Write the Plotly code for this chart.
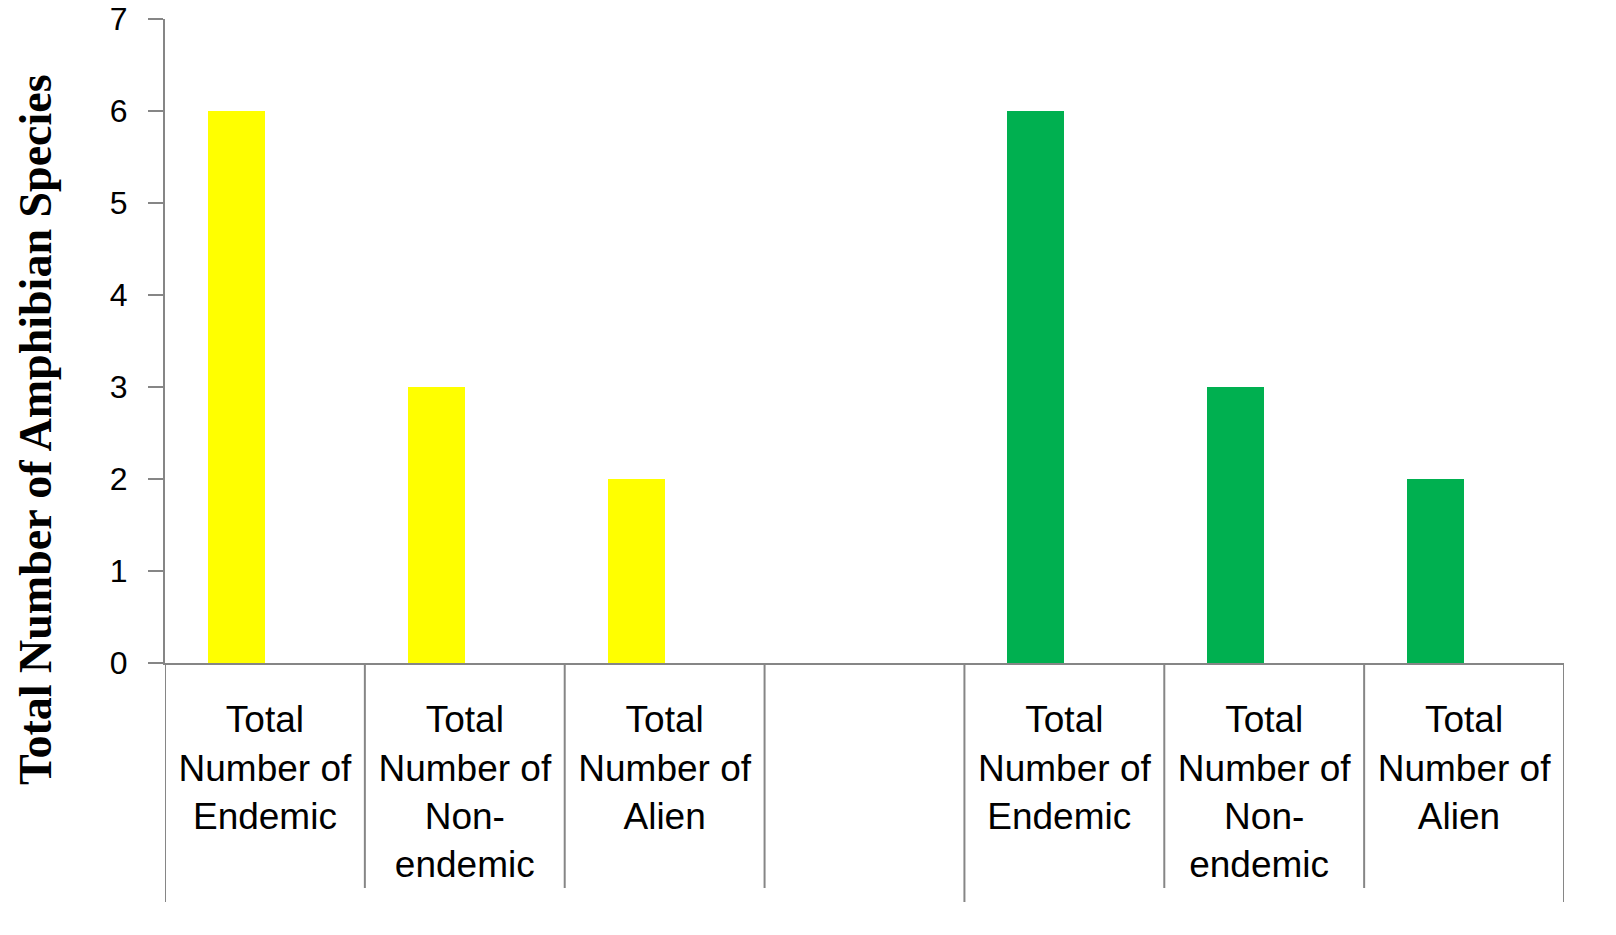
import plotly.graph_objects as go

categories = ["Total<br>Number of<br>Endemic", "Total<br>Number of<br>Non-<br>endemic",
              "Total<br>Number of<br>Alien", " ",
              "Total<br>Number of<br>Endemic ", "Total<br>Number of<br>Non-<br>endemic ",
              "Total<br>Number of<br>Alien "]
values = [6, 3, 2, None, 6, 3, 2]
bar_colors = ["#FFFF00", "#FFFF00", "#FFFF00", "#FFFF00", "#00B050", "#00B050", "#00B050"]
y_ticks = [0, 1, 2, 3, 4, 5, 6, 7]
y_title = "Total Number of Amphibian Species"

AXIS = "#868686"
BAR_W = 0.285

fig = go.Figure()
fig.add_trace(go.Bar(
    x=list(range(len(categories))), y=values,
    marker=dict(color=bar_colors, line=dict(width=0)),
    width=BAR_W, offset=-BAR_W,
    hoverinfo="skip",
))

plot_top, plot_bottom = 19, 663
plot_h = plot_bottom - plot_top

# category divider ticks below the axis
shapes = []
for i in range(len(categories) + 1):
    xb = i - 0.5
    outer = i in (0, 4, len(categories))
    length = 239 if outer else 225
    shapes.append(dict(type="line", xref="x", yref="paper",
                       x0=xb, x1=xb, y0=0, y1=-length / plot_h,
                       line=dict(color=AXIS, width=2)))

fig.update_layout(
    width=1616, height=935,
    margin=dict(l=165, r=52, t=plot_top, b=935 - plot_bottom, pad=0),
    paper_bgcolor="white", plot_bgcolor="white",
    showlegend=False,
    bargap=0,
    shapes=shapes,
    xaxis=dict(
        tickmode="array", tickvals=list(range(len(categories))), ticktext=categories,
        range=[-0.5, len(categories) - 0.5],
        showgrid=False, zeroline=False, automargin=False,
        showline=True, linecolor=AXIS, linewidth=2,
        ticks="", ticklabelstandoff=23,
        tickfont=dict(family="Liberation Sans, Arial", size=37, color="black"),
        tickangle=0,
    ),
    yaxis=dict(
        range=[0, 7], tickmode="array", tickvals=y_ticks,
        showgrid=False, zeroline=False, automargin=False,
        showline=True, linecolor=AXIS, linewidth=2,
        ticks="outside", ticklen=15, tickwidth=2, tickcolor=AXIS,
        ticklabelstandoff=14, ticklabeloverflow="allow",
        tickfont=dict(family="Liberation Sans, Arial", size=32, color="black"),
    ),
    annotations=[dict(
        text=y_title, textangle=-90, xref="paper", yref="paper",
        x=0, y=(plot_bottom - 430) / plot_h, xanchor="center", yanchor="middle",
        xshift=-130, showarrow=False,
        font=dict(family="Liberation Serif, Times New Roman", size=46, color="black",
                  weight="bold"),
    )],
)

fig.write_html("out.html")
